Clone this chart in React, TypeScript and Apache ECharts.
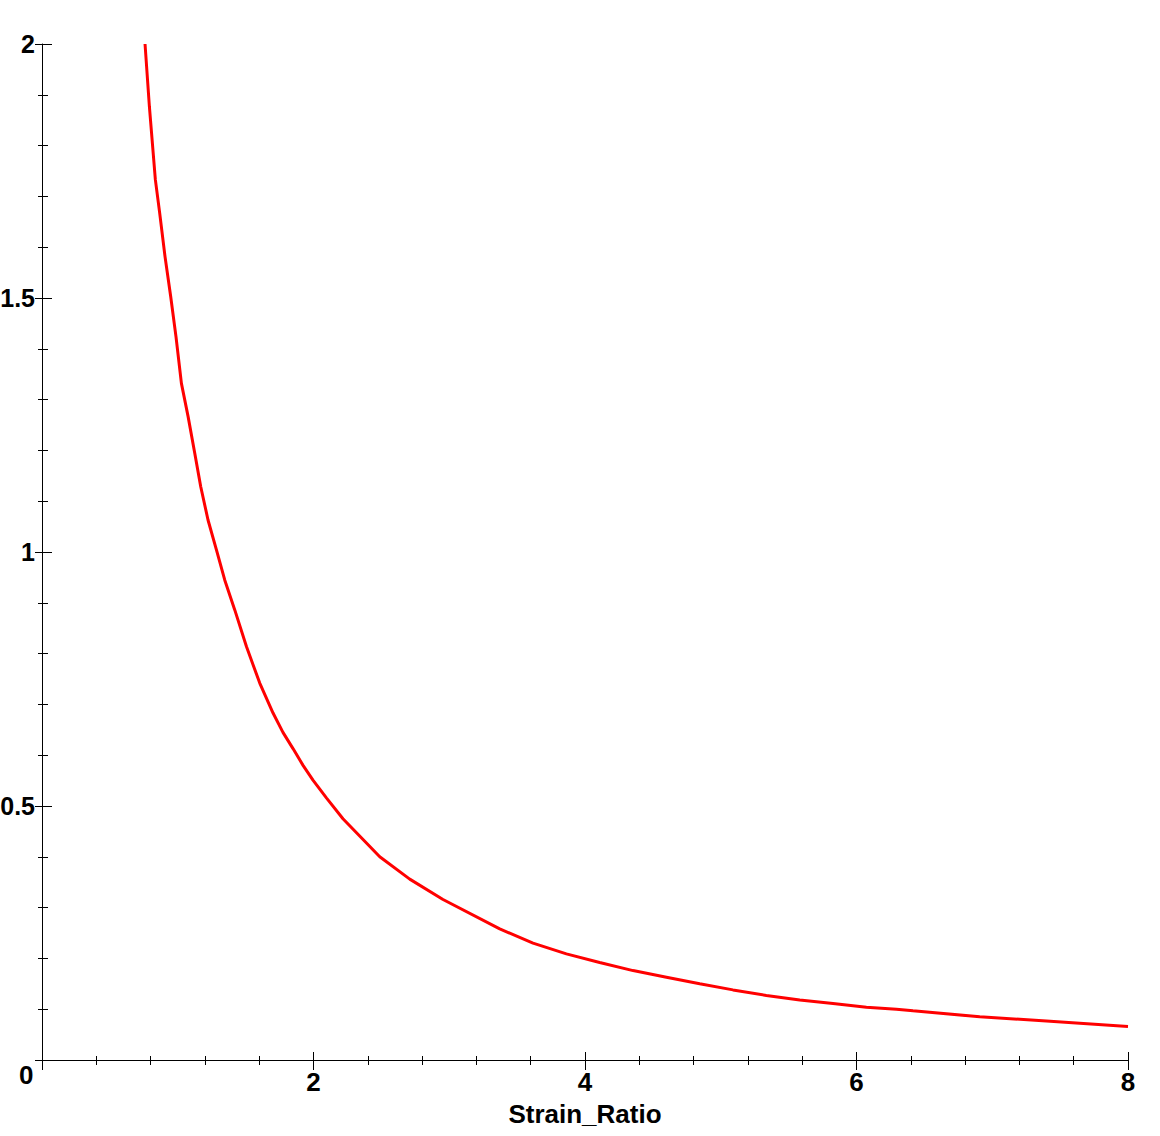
import React, { useEffect, useRef } from "react";
import * as echarts from "echarts";

const strainRatio = [
  0.759, 0.791, 0.835, 0.867, 0.906, 0.948, 0.987, 1.027, 1.076, 1.125, 1.169, 1.223,
  1.285, 1.346, 1.42, 1.506, 1.604, 1.702, 1.775, 1.849, 1.923, 1.996, 2.095, 2.217,
  2.488, 2.709, 2.954, 3.372, 3.617, 3.863, 4.108, 4.354, 4.6, 4.845, 5.09, 5.336,
  5.582, 5.827, 6.073, 6.294, 6.416, 6.908, 7.399, 8.0,
];
const values = [
  2.0, 1.877, 1.733, 1.667, 1.582, 1.503, 1.424, 1.332, 1.267, 1.195, 1.129, 1.063,
  1.004, 0.945, 0.886, 0.814, 0.742, 0.683, 0.645, 0.613, 0.58, 0.551, 0.516, 0.475,
  0.4, 0.356, 0.316, 0.258, 0.23, 0.209, 0.192, 0.176, 0.163, 0.15, 0.138, 0.127,
  0.118, 0.111, 0.104, 0.1, 0.097, 0.085, 0.077, 0.066,
];
const xAxisName = "Strain_Ratio";
const originLabel = "0";

const FONT = "'Liberation Sans', Arial, sans-serif";
const BLACK = "#000000";

export default function App() {
  const ref = useRef<HTMLDivElement>(null);
  useEffect(() => {
    document.body.style.margin = "0";
    document.body.style.overflow = "hidden";
    const chart = echarts.init(ref.current!, null, { renderer: "svg" });
    const labelStyle = {
      color: BLACK,
      fontFamily: FONT,
      fontWeight: "bold" as const,
      fontSize: 26,
    };
    const hideZero = (v: number) => (v === 0 ? "" : String(v));
    chart.setOption({
      animation: false,
      backgroundColor: "#ffffff",
      grid: {
        left: 42,
        right: 32,
        top: 44,
        bottom: 76,
        containLabel: false,
        outerBoundsMode: "none",
      },
      xAxis: [
        {
          type: "value",
          position: "bottom",
          min: 0,
          max: 8,
          interval: 2,
          name: xAxisName,
          nameLocation: "middle",
          nameGap: 41,
          nameTextStyle: labelStyle,
          axisLine: { show: true, onZero: false, lineStyle: { color: BLACK, width: 1 } },
          axisTick: { show: true, inside: false, length: 10, lineStyle: { color: BLACK, width: 1 } },
          minorTick: { show: true, splitNumber: 5, length: 5, lineStyle: { color: BLACK, width: 1 } },
          axisLabel: { ...labelStyle, margin: 9, formatter: hideZero },
          splitLine: { show: false },
          minorSplitLine: { show: false },
        },
        {
          type: "value",
          position: "bottom",
          min: 0,
          max: 8,
          interval: 2,
          axisLine: { show: false, onZero: false },
          axisTick: { show: true, inside: true, length: 8, lineStyle: { color: BLACK, width: 1 } },
          minorTick: { show: true, splitNumber: 5, length: 4, lineStyle: { color: BLACK, width: 1 } },
          axisLabel: { show: false },
          splitLine: { show: false },
        },
      ],
      yAxis: [
        {
          type: "value",
          position: "left",
          min: 0,
          max: 2,
          interval: 0.5,
          axisLine: { show: true, onZero: false, lineStyle: { color: BLACK, width: 1 } },
          axisTick: { show: true, inside: false, length: 7, lineStyle: { color: BLACK, width: 1 } },
          minorTick: { show: true, splitNumber: 5, length: 4, lineStyle: { color: BLACK, width: 1 } },
          axisLabel: { ...labelStyle, fontSize: 25, margin: 7, formatter: hideZero },
          splitLine: { show: false },
          minorSplitLine: { show: false },
        },
        {
          type: "value",
          position: "left",
          min: 0,
          max: 2,
          interval: 0.5,
          axisLine: { show: false, onZero: false },
          axisTick: { show: true, inside: true, length: 10, lineStyle: { color: BLACK, width: 1 } },
          minorTick: { show: true, splitNumber: 5, length: 6, lineStyle: { color: BLACK, width: 1 } },
          axisLabel: { show: false },
          splitLine: { show: false },
        },
      ],
      graphic: [
        {
          type: "text",
          left: 19,
          top: 1062,
          style: {
            text: originLabel,
            fill: BLACK,
            font: `bold 26px ${FONT}`,
          },
        },
      ],
      series: [
        {
          type: "line",
          xAxisIndex: 0,
          yAxisIndex: 0,
          data: strainRatio.map((x, i) => [x, values[i]]),
          showSymbol: false,
          symbol: "none",
          smooth: false,
          clip: true,
          lineStyle: { color: "#ff0000", width: 3 },
        },
      ],
    });
    return () => chart.dispose();
  }, []);
  return (
    <div
      ref={ref}
      style={{ position: "absolute", left: 0, top: 0, width: 1160, height: 1136 }}
    />
  );
}
